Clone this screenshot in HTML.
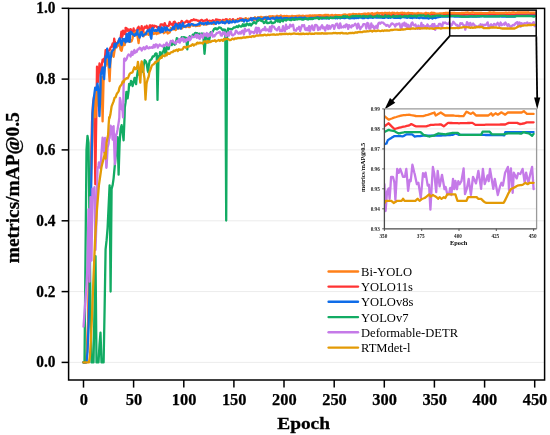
<!DOCTYPE html>
<html lang="en"><head><meta charset="utf-8"><title>metrics/mAP@0.5 vs Epoch</title>
<style>html,body{margin:0;padding:0;background:#fff}body{width:550px;height:435px;overflow:hidden}svg{display:block}text{font-family:"Liberation Serif","Times New Roman",serif;fill:#000}.tk{font-size:15px;font-weight:bold;stroke:#000;stroke-width:0.25px}.ti{font-size:17.6px;font-weight:bold}.lg{font-size:13.0px}.it{font-size:5.2px;font-weight:bold;fill:#222}.il{font-size:6.3px;font-weight:bold}</style></head><body>
<svg width="550" height="435" viewBox="0 0 550 435">
<rect width="550" height="435" fill="#fff"/>
<g stroke="#ececec" stroke-width="1">
<line x1="68.6" y1="362.4" x2="544.6" y2="362.4"/>
<line x1="68.6" y1="291.6" x2="544.6" y2="291.6"/>
<line x1="68.6" y1="220.8" x2="544.6" y2="220.8"/>
<line x1="68.6" y1="149.9" x2="544.6" y2="149.9"/>
<line x1="68.6" y1="79.1" x2="544.6" y2="79.1"/>
</g>
<defs><clipPath id="mc"><rect x="68.6" y="8.4" width="476.0" height="371.6"/></clipPath>
<clipPath id="ic"><rect x="384.4" y="108.9" width="152.2" height="119.9"/></clipPath></defs>
<g clip-path="url(#mc)">
<polyline points="83.5,362.4 84.5,362.4 85.5,362.4 86.0,362.4 86.5,357.1 87.0,351.8 87.5,339.4 88.0,327.0 88.5,305.7 89.0,284.5 89.5,252.6 90.0,220.8 90.5,192.4 91.0,164.1 91.5,142.9 92.0,121.6 92.5,112.8 93.0,103.9 93.5,100.4 94.0,96.8 94.5,125.6 94.8,142.9 95.3,184.3 95.5,170.6 96.0,134.4 96.5,104.7 97.0,66.7 97.5,77.1 98.0,82.0 98.5,76.5 99.5,63.5 100.5,71.4 100.7,72.5 101.5,67.0 102.6,59.7 103.6,60.5 104.1,58.6 104.6,62.0 105.6,50.2 106.6,50.1 107.6,54.5 108.6,50.7 109.6,50.1 110.6,47.4 111.6,46.7 112.6,43.5 113.6,46.9 114.2,38.7 114.6,40.8 115.6,43.4 116.6,43.4 117.6,46.1 118.6,40.7 119.6,39.0 120.6,37.8 121.4,31.7 121.6,37.4 122.6,35.6 123.1,30.7 123.6,31.1 124.6,33.8 125.5,34.4 125.6,27.8 126.6,28.2 127.6,30.7 128.6,29.4 129.6,31.7 130.6,29.1 131.6,31.3 132.6,34.4 133.6,28.4 134.6,34.5 135.6,30.7 136.3,32.5 136.6,32.7 137.6,28.2 138.6,26.8 139.7,30.4 140.7,30.4 141.7,26.1 142.7,32.1 143.7,29.1 144.7,26.7 145.7,27.7 146.7,25.8 147.7,29.0 148.7,29.6 149.7,25.4 150.7,25.4 151.7,29.3 152.7,25.4 153.7,27.7 154.7,25.8 155.7,26.2 156.7,26.5 157.7,28.0 158.7,26.9 159.7,28.1 160.7,24.3 161.7,24.4 162.7,24.7 163.7,26.1 164.7,23.2 165.7,25.5 166.7,26.5 167.7,26.1 168.7,26.0 169.7,21.9 170.7,24.4 171.7,24.0 172.7,25.7 173.7,22.0 174.7,21.7 175.7,24.3 176.8,23.6 177.8,25.2 178.8,23.0 179.8,23.9 180.8,22.7 181.8,20.9 182.8,22.6 183.8,22.9 184.8,22.5 185.8,21.8 186.8,20.7 187.8,22.3 188.8,21.4 189.8,22.2 190.8,20.6 191.8,20.1 192.8,20.3 193.8,19.3 194.8,20.2 195.8,20.0 196.8,20.2 197.8,20.8 198.8,20.7 199.8,21.3 200.8,20.4 201.8,19.9 202.8,20.8 203.8,21.0 204.8,20.5 205.8,20.6 206.8,19.4 207.8,21.6 208.8,21.0 209.8,20.6 210.8,21.3 211.8,21.0 212.8,20.1 213.9,21.7 214.9,21.9 215.9,19.4 216.9,19.8 217.9,19.6 218.9,21.4 219.9,19.9 220.9,21.2 221.9,20.8 222.9,19.8 223.9,21.0 224.9,19.9 225.9,19.2 226.9,19.3 227.9,20.6 228.9,21.1 229.9,19.2 230.9,20.9 231.9,21.0 232.9,19.1 233.9,20.6 234.9,21.0 235.9,20.4 236.9,20.5 237.9,18.9 238.9,19.5 239.9,18.3 240.9,18.7 241.9,18.7 242.9,20.1 243.9,20.2 244.9,19.6 245.9,19.3 246.9,20.2 247.9,19.9 248.9,19.3 249.9,19.8 251.0,17.9 252.0,19.5 253.0,19.8 254.0,18.2 255.0,19.5 256.0,18.2 257.0,19.5 258.0,19.2 259.0,18.5 260.0,18.9 261.0,17.8 262.0,18.1 263.0,18.9 264.0,18.2 265.0,19.1 266.0,17.0 267.0,18.9 268.0,18.5 269.0,18.0 270.0,16.7 271.0,17.4 272.0,17.1 273.0,18.4 274.0,17.4 275.0,16.6 276.0,17.9 277.0,17.3 278.0,17.1 279.0,16.4 280.0,17.8 281.0,15.8 282.0,17.0 283.0,16.5 284.0,17.0 285.0,16.7 286.0,16.4 287.0,16.8 288.1,16.9 289.1,16.8 290.1,17.1 291.1,17.2 292.1,16.5 293.1,16.4 294.1,16.6 295.1,16.6 296.1,16.1 297.1,17.1 298.1,17.1 299.1,16.3 300.1,16.1 301.1,16.1 302.1,16.6 303.1,16.8 304.1,16.6 305.1,16.8 306.1,16.1 307.1,16.0 308.1,16.1 309.1,16.4 310.1,16.6 311.1,16.6 312.1,16.0 313.1,16.6 314.1,15.7 315.1,16.1 316.1,16.5 317.1,16.7 318.1,16.4 319.1,16.0 320.1,16.2 321.1,16.0 322.1,16.0 323.1,16.3 324.1,16.1 325.2,16.3 326.2,15.8 327.2,16.2 328.2,16.1 329.2,16.2 330.2,16.0 331.2,15.5 332.2,15.7 333.2,15.8 334.2,15.8 335.2,16.4 336.2,16.4 337.2,15.7 338.2,15.5 339.2,15.6 340.2,16.1 341.2,16.0 342.2,15.8 343.2,15.8 344.2,16.2 345.2,15.3 346.2,16.0 347.2,16.0 348.2,15.5 349.2,15.4 350.2,15.5 351.2,15.2 352.2,16.1 353.2,15.5 354.2,15.8 355.2,16.1 356.2,15.1 357.2,16.0 358.2,15.4 359.2,15.2 360.2,15.3 361.2,15.6 362.3,15.8 363.3,15.0 364.3,15.5 365.3,15.0 366.3,15.6 367.3,15.3 368.3,15.1 369.3,15.6 370.3,15.2 371.3,15.5 372.3,15.0 373.3,15.0 374.3,15.1 375.3,15.4 376.3,15.3 377.3,15.3 378.3,15.4 379.3,15.3 380.3,15.6 381.3,15.6 382.3,14.8 383.3,15.7 384.3,15.5 385.3,14.8 386.3,14.9 387.3,15.4 388.3,15.2 389.3,15.0 390.3,15.4 391.3,15.3 392.3,14.9 393.3,14.7 394.3,15.3 395.3,15.5 396.3,15.7 397.3,15.5 398.3,15.0 399.4,15.2 400.4,15.5 401.4,15.1 402.4,14.9 403.4,14.8 404.4,14.9 405.4,15.1 406.4,14.6 407.4,15.6 408.4,15.5 409.4,14.8 410.4,15.2 411.4,14.8 412.4,15.5 413.4,14.9 414.4,14.9 415.4,14.9 416.4,14.9 417.4,15.3 418.4,15.1 419.4,15.2 420.4,15.2 421.4,15.5 422.4,15.2 423.4,15.1 424.4,15.1 425.4,14.5 426.4,15.1 427.4,15.0 428.4,14.8 429.4,14.5 430.4,14.9 431.4,14.4 432.4,14.8 433.4,15.2 434.4,15.3 435.4,14.7 436.5,14.5 437.3,14.4 437.5,14.4 438.5,14.7 439.5,15.0 440.5,15.2 441.2,15.4 441.5,15.4 442.5,15.3 443.5,15.2 444.5,15.2 445.5,15.1 446.0,15.1 446.5,15.0 447.5,15.0 448.5,14.9 449.5,14.9 450.5,14.8 450.9,14.8 451.5,14.7 452.5,14.5 453.5,14.7 454.5,14.8 455.5,14.9 456.5,14.9 457.5,14.9 458.5,14.9 459.5,14.9 460.5,14.9 461.5,14.9 462.5,14.9 463.5,14.8 464.5,14.8 465.5,14.7 466.5,14.7 467.5,14.7 468.5,14.6 469.5,14.6 470.5,14.6 471.5,14.6 472.5,14.6 473.6,14.8 474.4,14.9 474.6,14.9 475.6,14.7 476.6,14.5 477.3,14.3 477.6,14.3 478.6,14.3 479.6,14.3 480.6,14.4 481.6,14.4 482.6,14.4 483.6,14.4 484.6,14.4 485.6,14.4 486.6,14.4 487.6,14.4 488.6,14.4 489.6,14.4 490.6,14.3 491.6,14.3 492.6,14.3 493.6,14.3 494.6,14.5 495.6,14.7 496.6,14.7 497.6,14.7 498.6,14.7 499.6,14.7 500.6,14.7 501.6,14.7 502.6,14.6 503.6,14.6 504.6,14.6 505.6,14.6 506.6,14.6 507.6,14.6 508.6,14.6 509.6,14.6 510.7,14.6 511.7,14.6 512.7,14.6 513.7,14.6 514.7,14.6 515.7,14.6 516.7,14.5 517.7,14.4 518.0,14.3 518.7,14.3 519.7,14.3 520.7,14.3 521.7,14.3 522.7,14.3 523.7,14.3 524.7,14.5 525.3,14.5 525.7,14.5 526.7,14.5 527.7,14.4 528.7,14.4 529.7,14.3 530.2,14.2 530.7,14.2 531.7,14.2 532.7,14.2 533.7,14.2 534.7,14.2" fill="none" stroke="#FF3333" stroke-width="2.3" stroke-linejoin="round" stroke-linecap="round"/>
<polyline points="83.5,362.4 84.5,362.4 85.5,362.4 86.5,355.3 87.5,341.2 88.5,309.3 89.5,256.2 90.5,203.1 91.5,164.1 92.5,128.7 93.5,114.5 94.5,100.4 95.5,117.1 96.5,90.0 97.5,90.4 98.5,105.9 99.5,100.2 100.5,83.2 101.5,76.8 102.6,121.4 103.6,78.7 104.6,66.5 105.6,66.0 106.6,58.3 107.6,61.9 108.6,66.8 109.6,81.2 110.6,58.7 111.6,50.5 112.6,54.7 113.6,56.7 114.6,50.3 115.6,44.9 116.6,47.4 117.6,42.8 118.6,43.8 119.6,44.3 120.6,49.9 121.6,50.8 122.6,45.8 123.6,39.4 124.6,45.2 125.6,40.1 126.6,39.2 127.6,38.1 128.6,41.5 129.6,41.1 130.6,41.6 131.6,41.1 132.6,38.3 133.6,33.2 134.6,35.7 135.6,31.7 136.6,34.2 137.6,36.6 138.6,43.2 139.7,31.8 140.7,30.6 141.7,33.9 142.7,35.4 143.7,36.3 144.7,32.5 145.7,34.6 146.7,34.1 147.7,33.7 148.7,34.9 149.7,31.7 150.7,33.3 151.7,33.3 152.7,32.4 153.7,34.0 154.7,33.7 155.7,32.3 156.7,34.1 157.7,32.8 158.7,33.4 159.7,32.0 160.7,32.3 161.7,31.1 162.7,30.6 163.7,33.2 164.7,32.3 165.7,32.2 166.7,30.0 167.7,33.5 168.7,32.8 169.7,32.5 170.7,28.0 171.7,29.3 172.7,29.1 173.7,29.5 174.7,28.5 175.7,30.1 176.8,26.3 177.8,27.3 178.8,28.5 179.8,27.4 180.8,27.0 181.8,28.5 182.8,26.8 183.8,27.0 184.8,25.6 185.8,27.1 186.8,26.6 187.8,25.2 188.8,27.0 189.8,27.1 190.8,24.8 191.8,24.6 192.8,25.8 193.8,24.5 194.8,25.4 195.8,26.2 196.8,25.4 197.8,25.9 198.8,23.8 199.8,25.7 200.8,24.2 201.8,24.0 202.8,23.9 203.8,24.5 204.8,23.7 205.8,24.6 206.8,24.1 207.8,24.2 208.8,23.3 209.8,22.1 210.8,23.3 211.8,23.8 212.8,22.5 213.9,24.0 214.9,22.5 215.9,22.0 216.9,21.8 217.9,21.6 218.9,22.5 219.9,21.8 220.9,21.4 221.9,21.9 222.9,22.5 223.9,21.7 224.9,20.6 225.9,21.3 226.9,22.4 227.9,22.2 228.9,20.0 229.9,20.0 230.9,21.2 231.9,21.1 232.9,21.2 233.9,20.7 234.9,20.0 235.9,20.6 236.9,20.7 237.9,20.9 238.9,19.4 239.9,20.2 240.9,19.7 241.9,20.8 242.9,19.5 243.9,18.9 244.9,18.7 245.9,18.1 246.9,19.0 247.9,19.2 248.9,18.6 249.9,19.9 251.0,19.2 252.0,19.1 253.0,19.4 254.0,18.9 255.0,17.2 256.0,18.8 257.0,18.7 258.0,17.2 259.0,18.9 260.0,17.2 261.0,16.9 262.0,17.1 263.0,18.4 264.0,17.1 265.0,18.5 266.0,17.1 267.0,16.8 268.0,18.4 269.0,16.4 270.0,16.6 271.0,16.3 272.0,16.4 273.0,16.1 274.0,17.8 275.0,16.6 276.0,16.9 277.0,15.8 278.0,16.3 279.0,17.2 280.0,16.1 281.0,15.6 282.0,17.2 283.0,17.0 284.0,16.0 285.0,16.1 286.0,16.4 287.0,15.9 288.1,16.5 289.1,16.4 290.1,16.5 291.1,16.4 292.1,15.8 293.1,16.4 294.1,16.3 295.1,16.1 296.1,16.1 297.1,15.9 298.1,16.0 299.1,15.6 300.1,16.2 301.1,15.8 302.1,16.2 303.1,15.6 304.1,16.3 305.1,16.0 306.1,15.9 307.1,16.4 308.1,15.9 309.1,15.6 310.1,15.4 311.1,15.8 312.1,15.5 313.1,15.6 314.1,15.9 315.1,15.3 316.1,15.3 317.1,15.3 318.1,15.3 319.1,15.1 320.1,15.1 321.1,15.4 322.1,15.7 323.1,15.5 324.1,15.2 325.2,15.0 326.2,15.0 327.2,15.1 328.2,14.8 329.2,15.8 330.2,15.8 331.2,15.3 332.2,14.9 333.2,15.6 334.2,15.6 335.2,15.0 336.2,15.1 337.2,15.4 338.2,15.4 339.2,15.2 340.2,15.4 341.2,15.4 342.2,15.4 343.2,14.6 344.2,14.6 345.2,14.4 346.2,15.0 347.2,14.9 348.2,14.9 349.2,14.3 350.2,14.3 351.2,14.8 352.2,14.2 353.2,14.0 354.2,14.2 355.2,14.1 356.2,14.1 357.2,14.4 358.2,14.4 359.2,13.8 360.2,14.6 361.2,14.1 362.3,14.4 363.3,13.8 364.3,13.6 365.3,13.6 366.3,13.8 367.3,14.0 368.3,13.3 369.3,13.8 370.3,13.7 371.3,13.6 372.3,13.1 373.3,14.0 374.3,13.9 375.3,13.4 376.3,13.6 377.3,12.7 378.3,13.0 379.3,13.5 380.3,13.2 381.3,13.2 382.3,13.0 383.3,13.5 384.3,13.0 385.3,12.8 386.3,13.3 387.3,12.9 388.3,13.6 389.3,12.7 390.3,13.3 391.3,13.6 392.3,12.7 393.3,12.8 394.3,12.8 395.3,13.4 396.3,13.3 397.3,12.7 398.3,13.2 399.4,13.5 400.4,12.9 401.4,12.9 402.4,12.7 403.4,13.3 404.4,12.8 405.4,13.4 406.4,13.5 407.4,13.1 408.4,12.7 409.4,13.1 410.4,13.2 411.4,13.1 412.4,13.1 413.4,13.5 414.4,13.3 415.4,13.6 416.4,13.4 417.4,13.4 418.4,12.9 419.4,13.5 420.4,13.5 421.4,13.3 422.4,13.6 423.4,13.7 424.4,13.7 425.4,13.0 426.4,13.0 427.4,13.6 428.4,13.2 429.4,13.6 430.4,13.3 431.4,12.7 432.4,12.9 433.4,13.0 434.4,13.0 435.4,13.3 436.5,13.6 437.3,13.8 437.5,13.7 438.5,13.6 439.5,13.5 440.5,13.4 441.2,13.4 441.5,13.3 442.5,13.3 443.5,13.2 444.5,13.1 445.5,13.0 446.0,13.0 446.5,13.0 447.5,13.0 448.5,12.9 449.5,12.9 450.5,12.9 450.9,12.9 451.5,12.9 452.5,12.9 453.5,13.0 454.5,13.0 455.5,13.1 455.8,13.1 456.5,13.1 457.5,13.1 458.5,13.1 459.5,13.1 460.5,13.1 461.5,13.0 462.5,13.0 463.5,12.9 464.5,12.8 465.5,12.7 466.5,12.6 467.5,12.5 468.0,12.5 468.5,12.8 468.9,13.0 469.5,12.9 470.5,12.8 471.5,12.6 472.3,12.5 472.5,12.5 473.6,12.7 474.6,12.9 475.4,13.0 475.6,13.0 476.6,13.0 477.6,13.0 478.6,13.0 479.6,13.0 480.2,13.0 480.6,13.0 481.6,13.0 482.6,13.1 483.6,13.1 484.6,13.1 485.1,13.1 485.6,13.1 486.6,13.1 487.6,13.1 488.6,12.7 489.6,12.3 490.6,12.5 491.6,12.6 492.6,12.7 493.6,12.5 494.0,12.5 494.6,12.6 495.6,12.9 496.0,13.0 496.6,13.0 497.6,13.0 498.6,13.0 499.6,13.0 500.6,13.0 501.6,13.0 502.6,13.0 503.6,13.0 504.3,13.0 504.6,12.9 505.6,12.7 506.2,12.6 506.6,12.8 507.2,13.0 507.6,12.9 508.6,12.7 509.1,12.6 509.6,12.7 510.7,12.9 511.7,12.7 512.7,12.5 513.1,12.4 513.7,12.5 514.7,12.7 515.6,12.9 515.7,12.8 516.7,12.6 517.5,12.5 517.7,12.5 518.7,12.5 519.7,12.5 520.7,12.5 521.7,12.5 522.7,12.5 523.7,12.5 524.7,12.5 525.7,12.5 526.7,12.5 527.7,12.3 528.2,12.2 528.7,12.4 529.7,12.6 530.2,12.7 530.7,12.7 531.7,12.7 532.7,12.7 533.7,12.7 534.7,12.7" fill="none" stroke="#FF8019" stroke-width="2.3" stroke-linejoin="round" stroke-linecap="round"/>
<polyline points="83.5,362.4 84.5,362.4 85.5,362.4 86.5,362.4 87.5,351.8 88.5,327.0 89.5,291.6 90.5,220.8 91.5,167.6 92.5,113.5 93.5,100.4 94.5,92.9 95.2,87.6 95.5,88.2 96.5,89.8 97.5,83.7 98.0,87.7 98.5,92.1 99.4,116.2 99.5,115.6 100.5,88.6 100.7,75.1 101.5,71.9 102.6,67.4 103.6,76.9 104.1,79.1 104.6,70.8 105.6,56.4 106.6,57.6 107.2,48.7 107.6,55.2 108.6,52.6 109.6,67.4 109.9,64.6 110.6,57.6 111.1,57.0 111.6,52.2 112.6,50.7 113.6,49.6 114.6,43.6 115.6,47.4 116.6,43.6 117.6,43.1 118.6,41.2 119.6,38.4 120.6,42.4 121.6,45.1 122.6,38.6 123.6,40.6 124.6,38.9 125.6,42.4 126.6,34.2 127.6,41.3 128.6,33.1 129.6,41.8 130.6,31.6 131.6,32.5 132.6,34.0 133.6,34.7 134.6,35.8 135.6,33.8 136.6,34.5 137.5,30.2 137.6,33.8 138.6,34.9 139.7,37.6 140.7,32.5 141.7,31.9 142.7,36.0 143.7,34.8 144.7,34.4 145.7,34.0 146.7,31.9 147.7,30.4 148.7,31.3 149.7,29.4 150.2,33.1 150.7,36.8 151.3,38.7 151.7,34.7 152.2,28.5 152.7,27.9 153.7,30.7 154.7,30.8 155.7,29.9 156.7,30.9 157.7,30.5 158.7,27.4 159.7,31.4 160.7,32.4 161.7,27.3 162.7,31.8 163.7,28.6 164.7,27.3 165.7,30.6 166.7,27.5 167.7,29.6 168.7,30.2 169.7,30.3 170.7,30.3 171.7,29.5 172.7,27.4 173.7,27.2 174.2,28.9 174.7,26.7 175.7,24.1 176.8,24.5 177.8,28.6 178.8,26.8 179.8,24.1 180.8,28.7 181.8,25.9 182.8,23.1 183.8,26.5 184.8,26.7 185.8,26.2 186.8,25.3 187.8,25.6 188.8,24.0 189.8,25.6 190.8,24.3 191.8,24.0 192.8,24.4 193.8,25.3 194.8,25.1 195.8,25.0 196.8,25.0 197.8,24.3 198.8,24.4 199.8,22.5 200.8,22.8 201.8,23.8 202.8,23.1 203.8,24.3 204.8,23.2 205.8,22.8 206.8,24.1 207.8,22.3 208.8,23.4 209.8,23.5 210.8,22.9 211.8,23.5 212.8,22.7 213.9,22.0 214.9,22.9 215.9,23.9 216.9,21.8 217.9,21.8 218.9,23.3 219.9,22.7 220.9,22.6 221.9,21.5 222.9,22.8 223.9,22.1 224.9,23.4 225.9,22.3 226.9,21.1 227.9,21.4 228.9,23.1 229.9,21.2 230.9,22.4 231.9,22.4 232.9,20.8 233.9,21.6 234.9,22.4 235.9,20.7 236.9,21.6 237.9,21.5 238.9,21.1 239.9,20.3 240.9,20.2 241.9,20.3 242.9,19.4 243.9,21.6 244.9,20.0 245.9,19.7 246.9,21.1 247.9,20.7 248.9,20.6 249.9,19.3 251.0,18.4 252.0,20.4 253.0,18.2 254.0,18.3 255.0,18.5 256.0,18.6 257.0,19.9 258.0,17.8 259.0,18.0 260.0,18.5 261.0,19.2 262.0,19.2 263.0,18.9 264.0,17.6 265.0,17.7 266.0,17.6 267.0,19.2 268.0,17.4 269.0,18.8 270.0,19.2 271.0,18.2 272.0,18.5 273.0,17.6 274.0,18.6 275.0,19.4 276.0,17.7 277.0,17.4 278.0,19.2 279.0,18.0 280.0,17.8 281.0,17.4 282.0,19.0 283.0,19.3 284.0,18.1 285.0,18.2 286.0,18.2 287.0,18.2 288.1,18.3 289.1,18.7 290.1,18.5 291.1,17.9 292.1,17.9 293.1,18.4 294.1,18.3 295.1,17.9 296.1,17.6 297.1,18.7 298.1,18.5 299.1,17.7 300.1,18.0 301.1,17.7 302.1,17.9 303.1,18.5 304.1,17.6 305.1,17.7 306.1,18.5 307.1,18.3 308.1,18.6 309.1,18.4 310.1,18.1 311.1,18.0 312.1,18.0 313.1,18.5 314.1,17.8 315.1,18.1 316.1,17.9 317.1,17.5 318.1,17.5 319.1,18.3 320.1,17.6 321.1,17.8 322.1,18.5 323.1,18.3 324.1,18.4 325.2,18.2 326.2,17.5 327.2,18.4 328.2,18.1 329.2,18.3 330.2,17.8 331.2,17.9 332.2,17.7 333.2,17.9 334.2,17.9 335.2,18.3 336.2,17.6 337.2,18.3 338.2,18.0 339.2,17.6 340.2,18.3 341.2,17.7 342.2,17.9 343.2,17.7 344.2,18.1 345.2,18.0 346.2,17.6 347.2,17.4 348.2,17.5 349.2,18.3 350.2,18.3 351.2,18.0 352.2,18.2 353.2,18.0 354.2,18.3 355.2,17.6 356.2,18.2 357.2,17.4 358.2,18.1 359.2,17.5 360.2,17.6 361.2,17.3 362.3,18.1 363.3,18.2 364.3,18.0 365.3,17.3 366.3,17.5 367.3,17.8 368.3,18.0 369.3,17.5 370.3,17.5 371.3,17.4 372.3,17.8 373.3,17.8 374.3,17.3 375.3,17.1 376.3,17.7 377.3,17.6 378.3,17.5 379.3,17.7 380.3,17.7 381.3,17.2 382.3,17.8 383.3,17.6 384.3,17.9 385.3,17.5 386.3,17.0 387.3,17.5 388.3,17.9 389.3,17.3 390.3,17.8 391.3,17.5 392.3,17.1 393.3,17.4 394.3,17.9 395.3,17.6 396.3,17.9 397.3,17.9 398.3,17.9 399.4,17.7 400.4,18.1 401.4,17.5 402.4,17.2 403.4,17.2 404.4,17.4 405.4,17.4 406.4,17.6 407.4,17.8 408.4,17.4 409.4,17.4 410.4,17.9 411.4,17.5 412.4,18.1 413.4,17.4 414.4,17.5 415.4,17.4 416.4,17.8 417.4,17.5 418.4,17.8 419.4,18.2 420.4,17.5 421.4,17.7 422.4,18.0 423.4,18.2 424.4,17.9 425.4,18.2 426.4,18.0 427.4,17.9 428.4,18.6 429.4,18.1 430.4,17.9 431.4,17.8 432.4,18.5 433.4,17.8 434.4,17.7 435.4,18.0 435.8,18.0 436.5,17.6 436.8,17.4 437.5,17.3 438.5,17.1 439.2,17.0 439.5,16.9 440.5,16.8 441.2,16.7 441.5,16.7 442.5,16.7 443.5,16.7 444.5,16.7 445.5,16.7 446.5,16.7 447.0,16.7 447.5,16.6 448.5,16.5 449.5,16.3 450.5,16.3 451.5,16.3 452.5,16.3 453.0,16.3 453.5,16.4 454.5,16.7 454.8,16.7 455.5,16.7 456.5,16.7 457.5,16.7 458.5,16.6 459.5,16.6 460.5,16.6 461.5,16.6 462.5,16.6 463.5,16.6 464.5,16.6 465.5,16.6 466.5,16.6 467.5,16.6 468.5,16.6 469.5,16.6 470.5,16.6 471.5,16.6 472.5,16.6 473.6,16.5 474.6,16.5 475.6,16.5 476.6,16.5 477.6,16.5 478.6,16.5 479.6,16.5 480.2,16.4 480.6,16.4 481.6,16.3 482.2,16.2 482.6,16.2 483.6,16.3 484.6,16.4 485.6,16.4 486.6,16.4 487.6,16.4 488.6,16.4 489.6,16.4 490.6,16.4 491.6,16.4 492.6,16.4 493.6,16.4 494.6,16.4 495.6,16.4 496.6,16.4 497.6,16.4 498.6,16.4 499.6,16.4 500.6,16.4 501.6,16.5 502.6,16.5 503.6,16.5 504.6,16.5 505.6,16.5 506.6,16.5 507.6,16.5 508.6,16.5 509.6,16.5 510.7,16.5 511.7,16.5 512.7,16.5 513.7,16.5 514.7,16.5 515.1,16.5 515.7,15.9 516.7,15.9 517.7,15.9 518.7,15.9 519.7,15.9 520.7,15.9 521.7,15.9 522.7,15.9 523.7,15.9 524.7,15.9 525.7,15.9 526.7,15.9 527.7,15.9 528.7,15.9 529.7,15.9 530.7,15.9 531.7,15.9 532.7,15.9 533.7,15.9 534.7,15.9" fill="none" stroke="#0F6CE8" stroke-width="2.3" stroke-linejoin="round" stroke-linecap="round"/>
<polyline points="83.5,362.4 84.5,362.4 85.5,256.2 86.5,149.9 87.5,135.8 88.5,142.9 89.5,220.8 90.5,309.3 91.5,362.4 92.5,362.4 93.5,362.4 94.5,309.3 95.5,256.2 96.5,362.4 97.5,362.4 98.5,362.4 99.5,344.7 100.5,332.7 101.5,362.4 102.6,362.4 103.6,362.4 104.6,309.3 105.6,249.1 106.6,240.2 107.6,227.8 108.6,206.6 109.6,185.3 110.6,291.6 111.6,188.9 112.6,185.3 113.6,178.3 114.6,167.6 115.6,157.0 116.6,149.9 117.6,137.2 118.6,174.7 119.6,142.9 120.6,128.7 121.6,125.2 122.6,132.2 123.6,140.3 124.6,116.0 124.8,107.5 125.6,102.2 126.4,91.8 126.6,93.8 127.6,98.3 128.6,91.1 129.1,83.9 129.6,85.5 130.6,84.2 131.0,80.8 131.6,81.8 132.6,86.1 133.6,81.9 134.4,78.9 134.6,77.8 135.6,82.5 136.1,84.1 136.6,78.6 137.6,72.1 137.9,70.5 138.6,74.6 139.7,72.2 140.7,68.9 141.7,69.0 142.7,71.7 143.2,71.0 143.7,65.4 144.7,60.2 145.7,61.2 146.7,63.9 147.7,70.7 148.3,72.4 148.7,66.0 149.7,60.7 150.7,59.8 151.7,58.9 152.7,56.3 153.7,56.5 154.7,55.3 155.2,54.0 155.7,53.3 156.7,53.6 157.5,99.9 157.7,90.3 158.5,58.0 158.7,56.1 159.7,56.2 160.0,52.1 160.7,53.9 161.7,57.3 162.7,51.7 163.7,50.9 164.3,46.9 164.7,51.1 165.7,54.5 166.7,48.0 167.7,45.8 168.7,49.1 169.7,43.9 170.7,42.9 171.7,45.1 172.7,42.3 173.7,43.6 174.7,44.7 175.7,43.8 176.8,38.2 177.8,39.0 178.2,38.9 178.8,39.8 179.8,39.8 180.8,40.2 181.8,37.2 182.8,38.3 183.8,37.1 184.8,37.7 185.8,37.7 186.3,38.9 186.8,44.1 187.3,49.4 187.8,43.5 188.3,38.2 188.8,38.9 189.8,36.3 190.8,37.8 191.8,37.3 192.8,34.6 193.8,35.5 194.8,33.4 195.8,32.9 196.4,33.9 196.8,33.1 197.8,33.7 198.8,33.8 199.8,33.7 200.8,34.5 201.8,33.4 202.8,34.2 203.3,34.0 203.8,42.5 204.5,53.8 204.8,51.0 205.8,37.1 206.8,35.7 207.3,34.4 207.8,38.4 208.8,42.4 209.8,37.1 210.3,33.5 210.8,32.1 211.8,31.9 212.8,31.6 213.9,29.1 214.6,28.5 214.9,29.0 215.9,28.3 216.9,29.4 217.9,28.8 218.9,27.5 219.9,27.7 220.9,27.9 221.9,29.3 222.9,30.4 223.9,29.4 224.9,31.0 225.3,29.8 225.9,156.7 226.2,220.5 226.9,73.1 227.1,32.3 227.9,30.7 228.1,28.5 228.9,29.2 229.9,29.0 230.9,29.2 231.9,29.4 232.7,28.7 232.9,28.3 233.9,27.5 234.9,27.6 235.9,27.0 236.9,26.3 237.9,27.2 238.9,25.5 239.9,26.2 240.9,26.6 241.9,26.1 242.9,24.2 243.9,26.1 244.9,24.5 245.9,25.7 246.9,23.5 247.9,24.2 248.9,25.2 249.9,23.8 251.0,25.5 252.0,24.1 253.0,23.2 254.0,22.0 255.0,23.0 256.0,23.5 257.0,20.8 258.0,20.8 259.0,20.0 260.0,19.8 261.0,20.8 262.0,21.0 263.0,21.4 264.0,23.1 265.0,22.5 266.0,20.7 267.0,23.0 268.0,23.0 269.0,22.9 270.0,22.6 271.0,21.4 272.0,23.3 273.0,23.2 274.0,22.6 275.0,22.3 276.0,20.4 277.0,20.1 278.0,21.6 279.0,20.0 280.0,22.1 281.0,19.9 282.0,20.6 283.0,21.3 284.0,19.7 285.0,19.5 286.0,20.6 287.0,19.9 288.1,19.1 289.1,19.6 290.1,20.0 291.1,20.2 292.1,19.5 293.1,18.8 294.1,19.9 295.1,19.6 296.1,19.2 297.1,19.5 298.1,19.1 299.1,19.2 300.1,19.0 301.1,18.8 302.1,19.7 303.1,19.6 304.1,19.2 305.1,18.6 306.1,19.0 307.1,18.9 308.1,19.5 309.1,18.2 310.1,19.1 311.1,18.7 312.1,19.2 313.1,18.8 314.1,18.1 315.1,17.9 316.1,18.0 317.1,17.8 318.1,18.3 319.1,19.0 320.1,18.1 321.1,18.3 322.1,17.6 323.1,17.7 324.1,17.9 325.2,18.0 326.2,18.3 327.2,17.4 328.2,17.7 329.2,18.5 330.2,17.4 331.2,17.9 332.2,18.2 333.2,18.0 334.2,17.8 335.2,17.0 336.2,16.8 337.2,17.0 338.2,17.7 339.2,17.1 340.2,17.4 341.2,17.4 342.2,17.4 343.2,16.1 344.2,16.7 345.2,16.2 346.2,17.1 347.2,16.3 348.2,17.3 349.2,17.3 350.2,17.2 351.2,16.4 352.2,16.4 353.2,15.9 354.2,16.3 355.2,16.0 356.2,16.0 357.2,16.0 358.2,16.4 359.2,15.8 360.2,15.9 361.2,16.8 362.3,16.3 363.3,15.8 364.3,16.1 365.3,16.9 366.3,16.1 367.3,16.7 368.3,16.5 369.3,16.2 370.3,15.6 371.3,16.3 372.3,16.8 373.3,16.8 374.3,16.6 375.3,16.3 376.3,16.1 377.3,15.5 378.3,16.7 379.3,15.6 380.3,16.7 381.3,16.4 382.3,16.6 383.3,16.8 384.3,16.8 385.3,15.5 386.3,16.3 387.3,16.7 388.3,15.7 389.3,16.1 390.3,16.6 391.3,16.8 392.3,16.9 393.3,15.7 394.3,16.3 395.3,16.8 396.3,16.0 397.3,16.6 398.3,16.3 399.4,16.0 400.4,16.0 401.4,16.8 402.4,16.6 403.4,16.7 404.4,15.8 405.4,16.1 406.4,16.0 407.4,16.5 408.4,16.6 409.4,15.6 410.4,15.8 411.4,15.7 412.4,16.2 413.4,16.1 414.4,15.6 415.4,15.6 416.4,16.6 417.4,15.6 418.4,15.7 419.4,15.5 420.4,15.5 421.4,15.5 422.4,15.6 423.4,15.4 424.4,15.8 425.4,16.3 426.4,16.4 427.4,15.7 428.4,15.4 429.4,16.6 430.4,16.4 431.4,16.6 432.4,16.2 433.4,16.4 434.4,16.0 435.4,15.8 436.5,15.7 437.3,15.6 437.5,15.6 438.5,15.6 439.5,15.7 440.5,15.7 441.2,15.8 441.5,15.8 442.5,16.0 443.5,16.1 444.1,16.2 444.5,16.2 445.5,16.1 446.5,16.0 447.5,16.0 448.0,15.9 448.5,15.9 449.5,15.9 450.5,15.9 451.5,15.9 452.5,15.9 453.5,15.9 454.5,15.9 455.5,15.9 456.5,15.9 457.5,15.9 458.5,15.9 458.7,15.9 459.5,16.1 460.5,16.4 460.7,16.4 461.5,16.5 462.5,16.6 463.5,16.7 464.5,16.7 465.5,16.7 466.5,16.6 467.5,16.6 468.5,16.5 469.5,16.3 470.5,16.2 471.5,16.2 472.5,16.3 473.6,16.3 474.6,16.3 475.6,16.3 476.6,16.3 477.6,16.2 478.6,16.2 479.6,16.1 480.2,16.1 480.6,16.1 481.6,16.1 482.6,16.1 483.6,16.1 483.8,16.1 484.6,16.3 485.3,16.4 485.6,16.4 486.6,16.4 487.6,16.4 488.6,16.4 489.6,16.4 490.6,16.4 491.6,16.4 492.6,16.4 493.6,16.4 494.6,16.4 495.6,16.4 496.6,16.4 497.6,16.4 498.6,16.4 499.4,16.4 499.6,16.3 500.4,15.9 500.6,15.9 501.6,15.9 502.6,15.9 503.6,15.9 504.6,15.9 505.2,15.9 505.6,16.0 506.6,16.3 507.6,16.3 508.6,16.3 509.6,16.3 510.7,16.3 511.7,16.3 512.7,16.3 513.7,16.3 514.7,16.3 515.7,16.3 516.7,16.2 517.7,16.2 518.7,16.2 519.7,16.2 520.7,16.2 521.7,16.2 522.7,16.2 523.7,16.2 524.7,16.2 525.7,16.2 526.7,16.2 527.7,15.9 528.7,16.0 529.7,16.1 530.7,16.1 531.7,16.2 532.7,16.4 533.7,16.6 534.7,16.3" fill="none" stroke="#12AB63" stroke-width="2.3" stroke-linejoin="round" stroke-linecap="round"/>
<polyline points="83.5,326.7 84.5,312.9 85.5,298.5 86.5,284.8 87.5,265.7 88.5,209.5 89.5,281.7 90.5,197.1 91.5,260.5 92.5,188.7 93.5,197.0 94.5,187.1 95.5,249.9 96.5,219.2 97.5,169.1 98.5,165.7 98.9,162.5 99.5,166.4 100.5,168.4 101.5,153.0 102.6,137.6 103.6,143.1 104.1,152.3 104.6,147.2 105.1,137.8 105.6,152.0 106.3,167.8 106.6,166.8 107.6,147.4 108.6,143.6 109.1,136.9 109.6,138.2 110.6,125.6 111.1,126.9 111.6,127.0 112.6,139.6 113.6,126.1 114.6,158.7 114.9,164.3 115.6,149.4 116.1,134.3 116.6,134.2 117.6,129.2 118.6,122.9 119.3,118.0 119.6,105.3 119.9,97.9 120.6,100.7 121.1,108.8 121.6,108.2 122.6,111.2 123.0,117.3 123.6,86.3 124.1,58.9 124.6,58.5 125.6,60.5 126.6,58.9 127.6,56.0 128.6,54.4 129.6,55.1 129.9,55.2 130.6,56.5 131.6,51.6 132.6,54.8 133.6,51.5 134.4,50.0 134.6,53.1 135.6,51.2 136.6,52.1 137.6,49.3 138.6,49.3 139.7,47.6 140.7,48.3 141.7,50.6 142.7,48.5 143.7,47.2 144.7,49.3 145.7,48.5 146.0,47.2 146.7,46.1 147.7,48.0 148.7,48.4 149.7,47.3 150.7,47.8 151.7,47.1 152.7,47.9 153.7,45.0 154.7,47.3 155.7,44.4 156.7,44.6 157.5,46.3 157.7,47.7 158.7,45.8 159.7,44.4 160.0,45.6 160.7,45.5 161.7,45.9 162.7,46.6 163.7,44.8 164.7,45.7 165.7,44.8 166.7,42.6 167.7,45.3 168.7,45.6 169.7,45.0 170.7,41.0 171.7,41.4 172.7,40.5 173.7,42.4 174.7,42.6 175.7,43.6 176.8,41.1 177.8,41.0 178.2,42.0 178.8,39.2 179.8,42.6 180.8,38.7 181.8,40.3 182.8,38.3 183.8,41.7 184.8,39.4 185.8,41.5 186.8,39.3 187.8,40.1 188.8,37.0 189.8,40.4 190.8,39.1 191.8,36.3 192.8,36.8 193.8,37.2 194.8,36.5 195.8,34.8 196.4,36.8 196.8,37.8 197.8,34.8 198.8,38.0 199.8,38.8 200.8,34.4 201.8,35.8 202.8,38.0 203.8,33.5 204.8,34.2 205.8,35.6 206.8,33.0 207.8,36.7 208.8,33.9 209.8,35.8 210.8,35.1 211.8,32.2 212.8,36.7 213.9,35.7 214.6,36.3 214.9,35.2 215.9,34.3 216.9,33.0 217.9,32.9 218.9,32.2 219.9,32.0 220.9,35.3 221.9,35.6 222.9,32.3 223.9,33.9 224.9,32.4 225.9,36.3 226.9,35.6 227.9,32.5 228.9,35.7 229.9,32.1 230.9,31.3 231.9,35.0 232.7,35.3 232.9,35.4 233.9,34.6 234.9,34.0 235.9,30.6 236.9,31.6 237.9,33.2 238.9,33.7 239.9,32.2 240.9,33.6 241.9,31.0 242.9,30.6 243.9,34.5 244.9,28.7 245.9,31.3 246.9,30.8 247.9,29.8 248.9,29.5 249.9,34.0 251.0,31.5 252.0,32.3 253.0,31.9 254.0,33.4 255.0,31.0 256.0,27.7 257.0,33.2 258.0,27.8 259.0,28.3 260.0,33.2 261.0,31.1 262.0,30.1 263.0,29.2 264.0,30.0 265.0,27.0 266.0,30.5 267.0,29.4 268.0,29.9 269.0,31.3 270.0,26.8 271.0,31.5 272.0,25.8 273.0,26.6 274.0,26.7 275.0,28.8 276.0,29.5 277.0,30.4 278.0,28.2 279.0,27.0 280.0,31.1 281.0,30.3 282.0,31.2 283.0,26.1 284.0,30.6 285.0,31.2 286.0,24.7 287.0,28.8 288.1,27.0 289.1,28.0 290.1,24.7 291.1,26.4 292.1,25.5 293.1,24.7 294.1,30.4 295.1,30.1 296.1,30.7 297.1,28.3 298.1,28.9 299.1,26.7 300.1,31.1 301.1,28.1 302.1,25.1 303.1,26.0 304.1,25.0 305.1,29.4 306.1,30.0 307.1,28.0 308.1,30.4 309.1,26.1 310.1,30.9 311.1,26.8 312.1,25.4 313.1,29.7 314.1,30.1 315.1,25.1 316.1,24.8 317.1,25.6 318.1,30.0 319.1,27.5 320.1,29.4 321.1,26.8 322.1,25.2 323.1,28.4 324.1,27.3 325.2,30.6 326.2,27.0 327.2,25.2 328.2,29.1 329.2,25.8 330.2,28.7 331.2,26.6 332.2,25.1 333.2,25.4 334.2,28.9 335.2,25.7 336.2,23.8 337.2,23.6 338.2,27.8 339.2,28.1 340.2,23.3 341.2,27.6 342.2,26.8 343.2,27.3 344.2,25.6 345.2,27.2 346.2,24.4 347.2,24.8 348.2,28.9 349.2,25.2 350.2,26.6 351.2,27.5 352.2,25.3 353.2,26.0 354.2,24.9 355.2,23.6 356.2,24.9 357.2,28.5 358.2,23.6 359.2,26.2 360.2,29.2 361.2,27.2 362.3,26.6 363.3,24.2 364.3,24.2 365.3,24.3 366.3,28.6 367.3,22.9 368.3,23.5 369.3,28.7 370.3,28.7 371.3,23.5 372.3,27.0 373.3,25.8 374.3,28.8 375.3,27.4 376.3,25.8 377.3,28.4 378.3,23.6 379.3,22.6 380.3,23.7 381.3,22.3 382.3,22.6 383.3,22.6 384.3,24.2 385.3,24.5 386.3,25.8 387.3,25.0 388.3,25.6 389.3,26.9 390.3,25.6 391.3,23.9 392.3,23.4 393.3,24.2 394.3,24.8 395.3,26.6 396.3,23.9 397.3,24.5 398.3,23.8 399.4,23.4 400.4,26.9 401.4,28.9 402.4,23.7 403.4,25.3 404.4,22.6 405.4,26.2 406.4,23.8 407.4,27.8 408.4,24.9 409.4,28.1 410.4,28.6 411.4,23.3 412.4,22.5 413.4,25.1 414.4,25.5 415.4,24.4 416.4,26.9 417.4,28.8 418.4,25.5 419.4,28.7 420.4,28.2 421.4,23.0 422.4,28.0 423.4,25.1 424.4,27.8 425.4,26.3 426.4,27.6 427.4,24.4 428.4,25.9 429.4,27.0 430.4,26.0 431.4,26.5 432.4,24.1 433.4,27.9 434.4,24.0 435.2,29.9 435.4,29.2 436.2,26.5 436.5,26.4 437.3,25.9 437.5,26.5 438.0,27.8 438.5,25.8 439.0,23.9 439.5,23.9 440.2,23.9 440.5,24.2 441.2,24.9 441.5,26.2 441.9,28.0 442.5,25.2 443.1,22.5 443.5,22.7 444.1,23.2 444.5,22.9 445.1,22.5 445.5,22.8 446.5,23.5 447.0,23.9 447.5,23.9 448.2,23.9 448.5,23.5 449.2,22.5 449.5,23.4 450.4,26.4 450.5,26.2 451.4,24.4 451.5,24.4 452.1,24.7 452.5,23.7 453.3,21.7 453.5,21.9 454.5,23.1 454.8,23.4 455.5,24.2 456.3,25.2 456.5,25.1 457.3,24.9 457.5,25.3 458.5,26.9 458.9,27.6 459.5,25.9 460.4,23.2 460.5,23.3 461.5,23.9 462.1,23.1 462.5,23.8 463.5,25.4 464.4,25.3 464.5,25.8 465.3,29.7 465.5,28.8 466.5,24.3 467.0,22.1 467.5,22.7 468.0,23.4 468.5,24.7 469.2,26.6 469.5,25.5 470.2,22.8 470.5,23.5 471.5,25.6 472.5,24.3 473.1,23.5 473.6,24.1 474.6,25.6 474.9,26.1 475.6,25.7 476.6,26.8 476.8,27.1 477.6,26.8 478.1,26.7 478.6,26.1 478.8,25.8 479.5,27.1 479.6,26.8 480.6,24.2 481.4,26.1 481.6,25.7 482.2,24.6 482.6,25.2 483.2,26.1 483.6,25.4 484.1,24.7 484.6,25.0 485.0,25.2 485.6,24.9 486.2,24.7 486.6,24.0 487.6,22.5 487.7,22.4 488.6,27.0 489.6,26.2 489.8,26.0 490.6,24.9 491.1,24.3 491.6,25.2 492.6,27.1 493.6,24.8 494.0,23.9 494.6,24.2 495.6,24.8 496.0,25.0 496.6,24.2 497.6,22.8 498.6,24.6 499.4,26.0 499.6,25.4 500.6,22.5 501.6,24.7 501.8,25.2 502.6,24.6 503.6,23.8 503.8,23.6 504.5,24.7 504.6,24.4 505.4,22.5 505.6,22.8 506.6,24.4 507.6,26.0 508.6,24.3 509.6,25.7 510.7,27.1 511.7,26.1 512.2,25.6 512.7,25.2 513.1,24.9 513.7,25.2 514.1,25.4 514.7,24.5 515.6,23.2 515.7,23.1 516.7,22.6 517.5,22.1 517.7,23.3 518.2,26.2 518.7,23.9 518.8,23.4 519.5,22.4 519.7,23.1 520.7,26.7 521.4,23.1 521.7,23.3 522.7,23.8 523.4,24.2 523.7,23.9 524.3,23.2 524.7,23.3 525.7,23.4 525.8,23.4 526.7,22.8 527.3,22.5 527.7,23.1 528.7,24.8 529.7,23.1 530.7,24.3 531.2,24.9 531.7,24.3 532.7,23.1 533.7,22.1 534.7,26.1" fill="none" stroke="#C57AE8" stroke-width="2.3" stroke-linejoin="round" stroke-linecap="round"/>
<polyline points="83.5,362.4 84.5,362.4 85.5,362.4 86.5,362.4 87.5,362.4 88.5,362.4 89.0,362.4 89.5,358.9 90.0,355.3 90.5,346.5 91.0,337.6 91.5,327.0 92.0,316.4 92.5,303.3 93.4,279.9 93.5,277.5 94.5,253.5 95.2,236.7 95.5,232.1 96.5,216.7 97.0,209.1 97.5,202.8 98.5,190.3 98.9,185.3 99.5,181.1 100.5,174.0 101.5,166.9 102.6,162.4 103.6,158.2 104.5,155.2 104.6,152.9 105.6,158.5 106.6,142.5 107.6,137.3 108.1,135.0 108.6,125.4 109.2,117.2 109.6,117.9 110.4,114.6 110.6,113.1 111.6,106.4 112.6,103.9 113.6,101.4 114.6,97.7 115.6,97.3 116.6,94.4 117.2,93.3 117.6,92.7 118.6,91.4 119.6,87.4 120.6,85.7 121.6,84.5 122.6,81.5 123.0,81.9 123.6,82.3 124.6,79.5 125.6,79.1 126.6,78.1 127.6,78.4 128.6,76.4 129.6,74.0 130.6,72.9 131.6,72.8 132.6,72.2 133.6,69.3 134.4,67.3 134.6,67.7 135.6,69.2 136.1,69.1 136.6,68.7 137.6,64.9 137.9,61.8 138.6,65.8 139.1,69.7 139.7,76.1 140.3,82.6 140.7,75.3 141.2,64.3 141.7,61.4 142.1,62.2 142.7,65.5 143.2,69.4 143.7,73.3 144.5,78.4 144.7,83.2 145.5,99.7 145.7,96.1 146.5,84.2 146.7,82.8 147.7,79.2 148.7,76.5 149.4,72.0 149.7,71.6 150.7,68.9 151.7,65.8 152.7,64.7 153.7,64.2 154.7,63.1 155.2,62.1 155.7,62.7 156.7,61.3 157.7,61.2 158.7,60.1 159.7,58.8 160.7,57.1 161.7,57.7 162.0,56.2 162.7,55.5 163.7,55.8 164.7,56.2 165.7,54.5 166.7,55.3 167.7,52.8 168.7,53.9 169.7,53.8 170.7,52.5 171.7,52.1 172.7,52.2 173.7,50.6 174.7,51.0 175.7,50.3 176.8,49.6 177.8,51.1 178.2,49.8 178.8,49.2 179.8,49.9 180.8,49.7 181.8,49.7 182.8,49.1 183.8,47.1 184.8,46.8 185.8,47.7 186.8,47.0 187.8,46.6 188.8,46.7 189.8,45.9 190.8,45.9 191.8,44.9 192.8,44.1 193.8,45.6 194.8,44.4 195.8,44.4 196.4,44.4 196.8,43.1 197.8,42.6 198.8,43.5 199.8,42.6 200.8,43.2 201.8,42.9 202.8,43.6 203.8,41.7 204.8,41.4 205.8,41.3 206.8,42.9 207.8,41.0 208.8,42.0 209.8,41.3 210.8,42.0 211.8,41.1 212.8,40.8 213.9,40.9 214.6,40.4 214.9,40.2 215.9,41.6 216.9,40.8 217.9,40.5 218.9,39.9 219.9,41.0 220.9,39.9 221.9,39.9 222.9,40.9 223.9,39.0 224.9,39.6 225.9,38.8 226.9,38.9 227.9,39.1 228.9,39.5 229.9,40.2 230.9,39.9 231.9,39.0 232.7,38.6 232.9,39.0 233.9,39.3 234.9,38.5 235.9,38.5 236.9,38.5 237.9,38.0 238.9,38.1 239.9,38.0 240.9,37.8 241.9,38.0 242.9,37.4 243.9,37.5 244.9,37.3 245.9,37.5 246.9,36.9 247.9,37.3 248.9,36.9 249.9,36.7 251.0,37.0 252.0,36.3 253.0,36.1 254.0,36.6 255.0,36.3 256.0,35.6 257.0,35.5 258.0,35.7 259.0,35.5 260.0,35.2 261.0,35.5 262.0,35.1 263.0,35.4 264.0,34.9 265.0,34.7 266.0,35.3 267.0,35.1 268.0,34.6 269.0,35.0 270.0,34.8 271.0,34.6 272.0,34.6 273.0,34.5 274.0,34.4 275.0,34.8 276.0,34.7 277.0,34.5 278.0,34.6 279.0,34.3 280.0,33.8 281.0,34.4 282.0,33.8 283.0,34.2 284.0,33.7 285.0,34.1 286.0,33.7 287.0,34.0 288.1,34.1 289.1,33.7 290.1,34.0 291.1,34.0 292.1,33.9 293.1,33.7 294.1,33.5 295.1,33.6 296.1,33.9 297.1,33.8 298.1,33.6 299.1,34.1 300.1,34.1 301.1,33.6 302.1,34.1 303.1,33.5 304.1,34.0 305.1,33.9 306.1,33.9 307.1,33.7 308.1,34.1 309.1,33.5 310.1,33.5 311.1,34.0 312.1,33.7 313.1,33.9 314.1,33.9 315.1,33.4 316.1,33.4 317.1,33.5 318.1,33.5 319.1,33.5 320.1,33.4 321.1,33.6 322.1,33.1 323.1,33.5 324.1,33.4 325.2,33.5 326.2,33.5 327.2,33.5 328.2,33.4 329.2,33.4 330.2,33.4 331.2,33.4 332.2,33.4 333.2,33.0 334.2,33.1 335.2,33.0 336.2,33.1 337.2,33.4 338.2,33.1 339.2,33.1 340.2,33.4 341.2,32.8 342.2,32.9 343.2,33.4 344.2,33.3 345.2,33.3 346.2,33.2 347.2,33.6 348.2,33.4 349.2,33.1 350.2,33.0 351.2,33.2 352.2,32.7 353.2,33.1 354.2,33.0 355.2,32.5 356.2,32.4 357.2,32.7 358.2,32.1 359.2,32.0 360.2,32.0 361.2,32.1 362.3,32.2 363.3,31.6 364.3,31.4 365.3,31.7 366.3,31.5 367.3,31.2 368.3,31.3 369.3,31.2 370.3,30.9 371.3,30.8 372.3,31.5 373.3,30.8 374.3,30.8 375.3,31.0 376.3,31.0 377.3,30.8 378.3,30.5 379.3,30.9 380.3,31.1 381.3,30.9 382.3,30.5 383.3,31.0 384.3,30.5 385.3,30.7 386.3,30.5 387.3,30.3 388.3,30.6 389.3,30.6 390.3,30.2 391.3,29.9 392.3,30.0 393.3,29.9 394.3,29.7 395.3,29.7 396.3,29.6 397.3,29.6 398.3,29.9 399.4,29.7 400.4,29.8 401.4,29.5 402.4,29.5 403.4,29.5 404.4,29.4 405.4,29.3 406.4,28.9 407.4,28.7 408.4,28.8 409.4,28.9 410.4,29.0 411.4,28.7 412.4,28.5 413.4,28.4 414.4,28.7 415.4,28.8 416.4,28.3 417.4,28.4 418.4,28.1 419.4,28.1 420.4,28.6 421.4,28.3 422.4,28.3 423.4,28.3 424.4,28.4 425.4,27.9 426.4,28.5 427.4,28.1 428.4,28.4 429.4,28.6 430.4,28.3 431.4,28.3 432.4,28.5 433.4,28.8 434.4,28.8 435.4,28.1 436.5,28.1 437.5,28.1 438.5,28.1 439.2,28.1 439.5,28.2 440.5,28.5 440.7,28.5 441.5,28.4 442.5,28.2 443.1,28.1 443.5,28.1 444.5,28.1 445.5,28.1 446.0,28.1 446.5,28.0 447.0,27.8 447.5,28.0 448.0,28.1 448.5,28.1 449.5,28.1 450.5,28.1 451.5,28.1 452.5,28.1 453.5,28.1 454.5,28.1 455.3,28.1 455.5,28.1 456.5,27.8 456.8,27.8 457.5,28.0 458.2,28.1 458.5,28.1 459.5,27.8 459.7,27.8 460.5,27.7 461.5,27.6 462.5,27.4 463.5,27.2 464.5,27.0 465.5,27.4 466.5,27.2 467.0,27.1 467.5,27.2 468.5,27.3 469.5,27.5 470.5,27.8 471.5,27.5 472.5,27.7 472.8,27.8 473.6,27.6 474.4,27.5 474.6,27.5 475.4,27.6 475.6,27.5 476.6,27.0 477.6,27.0 478.6,27.0 479.6,27.0 480.6,27.0 481.6,27.0 482.2,27.0 482.6,27.3 483.6,28.1 484.6,28.1 485.6,28.1 486.6,28.1 487.6,28.1 488.6,28.1 489.6,28.1 490.6,27.5 491.6,27.5 492.6,27.5 493.6,27.5 494.6,27.5 495.6,27.5 496.5,27.5 496.6,27.5 497.5,27.8 497.6,27.8 498.6,27.8 499.4,27.8 499.6,27.8 500.6,28.1 501.3,28.3 501.6,28.3 502.6,28.5 502.8,28.5 503.6,28.5 504.6,28.5 505.6,28.5 506.6,28.5 507.6,28.5 508.6,28.5 509.6,28.5 510.7,28.5 511.7,28.5 512.7,28.5 513.7,28.5 514.6,28.5 514.7,28.4 515.7,28.0 516.1,27.8 516.7,27.4 517.7,26.9 518.0,26.7 518.7,26.4 519.5,26.1 519.7,26.0 520.7,25.9 521.4,25.8 521.7,25.8 522.7,25.6 523.7,25.5 523.9,25.4 524.7,25.4 525.7,25.4 526.7,25.3 527.3,25.3 527.7,25.2 528.7,25.0 529.2,24.9 529.7,25.0 530.7,25.2 531.7,25.0 532.1,24.9 532.7,24.9 533.7,24.9 534.7,24.9" fill="none" stroke="#E39A05" stroke-width="2.3" stroke-linejoin="round" stroke-linecap="round"/>
</g>
<rect x="68.6" y="8.4" width="476.0" height="371.6" fill="none" stroke="#000" stroke-width="1.5"/>
<g stroke="#000" stroke-width="1.5">
<line x1="61.6" y1="362.4" x2="68.6" y2="362.4"/>
<line x1="61.6" y1="291.6" x2="68.6" y2="291.6"/>
<line x1="61.6" y1="220.8" x2="68.6" y2="220.8"/>
<line x1="61.6" y1="149.9" x2="68.6" y2="149.9"/>
<line x1="61.6" y1="79.1" x2="68.6" y2="79.1"/>
<line x1="61.6" y1="8.3" x2="68.6" y2="8.3"/>
<line x1="83.5" y1="380.0" x2="83.5" y2="387.6"/>
<line x1="133.6" y1="380.0" x2="133.6" y2="387.6"/>
<line x1="183.8" y1="380.0" x2="183.8" y2="387.6"/>
<line x1="233.9" y1="380.0" x2="233.9" y2="387.6"/>
<line x1="284.0" y1="380.0" x2="284.0" y2="387.6"/>
<line x1="334.2" y1="380.0" x2="334.2" y2="387.6"/>
<line x1="384.3" y1="380.0" x2="384.3" y2="387.6"/>
<line x1="434.4" y1="380.0" x2="434.4" y2="387.6"/>
<line x1="484.6" y1="380.0" x2="484.6" y2="387.6"/>
<line x1="534.7" y1="380.0" x2="534.7" y2="387.6"/>
</g>
<text class="tk" style="font-size:16.2px" transform="translate(55.5,367.3) scale(0.95,1)" text-anchor="end">0.0</text>
<text class="tk" style="font-size:16.2px" transform="translate(55.5,296.5) scale(0.95,1)" text-anchor="end">0.2</text>
<text class="tk" style="font-size:16.2px" transform="translate(55.5,225.7) scale(0.95,1)" text-anchor="end">0.4</text>
<text class="tk" style="font-size:16.2px" transform="translate(55.5,154.8) scale(0.95,1)" text-anchor="end">0.6</text>
<text class="tk" style="font-size:16.2px" transform="translate(55.5,84.0) scale(0.95,1)" text-anchor="end">0.8</text>
<text class="tk" style="font-size:16.2px" transform="translate(55.5,13.2) scale(0.95,1)" text-anchor="end">1.0</text>
<text class="tk" style="font-size:16.4px" transform="translate(83.8,405.0)" text-anchor="middle">0</text>
<text class="tk" style="font-size:16.4px" transform="translate(133.9,405.0)" text-anchor="middle">50</text>
<text class="tk" style="font-size:16.4px" transform="translate(184.1,405.0)" text-anchor="middle">100</text>
<text class="tk" style="font-size:16.4px" transform="translate(234.2,405.0)" text-anchor="middle">150</text>
<text class="tk" style="font-size:16.4px" transform="translate(284.3,405.0)" text-anchor="middle">200</text>
<text class="tk" style="font-size:16.4px" transform="translate(334.5,405.0)" text-anchor="middle">250</text>
<text class="tk" style="font-size:16.4px" transform="translate(384.6,405.0)" text-anchor="middle">300</text>
<text class="tk" style="font-size:16.4px" transform="translate(434.7,405.0)" text-anchor="middle">350</text>
<text class="tk" style="font-size:16.4px" transform="translate(484.9,405.0)" text-anchor="middle">400</text>
<text class="tk" style="font-size:16.4px" transform="translate(535.0,405.0)" text-anchor="middle">450</text>
<text class="ti" transform="translate(303.6,428.5) scale(1.1,1)" text-anchor="middle" stroke="#000" stroke-width="0.3">Epoch</text>
<text class="ti" style="font-size:18.7px" transform="translate(19.4,187.7) rotate(-90) scale(1.037,1)" text-anchor="middle" stroke="#000" stroke-width="0.3">metrics/mAP@0.5</text>
<rect x="449.7" y="10.1" width="86.5" height="25.8" fill="none" stroke="#000" stroke-width="1.5"/>
<g stroke="#000" stroke-width="1.8" fill="#000">
<line x1="449.6" y1="36.2" x2="391.9" y2="101.2"/>
<polygon points="384.5,109.6 390.0,98.0 395.3,102.7" stroke="none"/>
<line x1="536.3" y1="36.2" x2="537.2" y2="99"/>
<polygon points="537.2,109.2 534.1,97.4 540.3,97.4" stroke="none"/>
</g>
<g stroke="#e6e6e6" stroke-width="0.8">
<line x1="384.4" y1="208.8" x2="536.6" y2="208.8"/>
<line x1="384.4" y1="188.8" x2="536.6" y2="188.8"/>
<line x1="384.4" y1="168.9" x2="536.6" y2="168.9"/>
<line x1="384.4" y1="148.9" x2="536.6" y2="148.9"/>
<line x1="384.4" y1="128.9" x2="536.6" y2="128.9"/>
</g>
<g clip-path="url(#ic)">
<polyline points="384.4,126.3 385.9,125.2 387.4,124.1 388.6,123.3 388.9,123.6 390.4,125.1 391.9,126.6 393.4,128.0 394.4,129.1 394.8,129.0 396.3,128.5 397.8,128.1 399.3,127.7 400.8,127.3 401.6,127.1 402.3,126.9 403.8,126.6 405.3,126.3 406.8,125.9 408.3,125.6 408.9,125.5 409.8,125.0 411.3,124.1 412.7,124.8 414.2,125.6 415.7,126.3 417.2,126.3 418.7,126.3 420.2,126.3 421.7,126.3 423.2,126.3 424.7,126.3 426.2,126.3 427.7,125.8 429.2,125.4 430.7,124.9 432.1,124.8 433.6,124.8 435.1,124.7 436.6,124.7 438.1,124.6 439.6,124.5 441.1,124.5 442.6,125.5 443.8,126.3 444.1,126.1 445.6,124.9 447.1,123.7 448.1,122.9 448.6,122.9 450.0,123.0 451.5,123.0 453.0,123.1 454.5,123.1 456.0,123.2 457.5,123.2 459.0,123.3 460.5,123.2 462.0,123.2 463.5,123.2 465.0,123.1 466.5,123.1 468.0,123.0 469.4,123.0 470.9,122.9 472.4,122.9 473.9,123.9 475.4,124.9 476.9,124.9 478.4,124.8 479.9,124.8 481.4,124.8 482.9,124.8 484.4,124.8 485.9,124.7 487.3,124.7 488.8,124.7 490.3,124.7 491.8,124.7 493.3,124.6 494.8,124.6 496.3,124.6 497.8,124.6 499.3,124.6 500.8,124.5 502.3,124.5 503.8,124.5 505.3,124.5 506.7,123.8 508.2,123.1 508.7,122.9 509.7,122.9 511.2,122.9 512.7,122.9 514.2,122.9 515.7,122.9 517.2,122.9 518.7,123.6 519.6,124.1 520.2,124.0 521.7,123.8 523.2,123.5 524.6,123.3 526.1,122.6 526.9,122.3 527.6,122.3 529.1,122.3 530.6,122.3 532.1,122.3 533.6,122.3" fill="none" stroke="#FF3333" stroke-width="2.3" stroke-linejoin="round" stroke-linecap="round"/>
<polyline points="384.4,116.1 385.9,117.4 387.4,118.7 388.6,119.7 388.9,119.6 390.4,119.0 391.9,118.5 393.4,117.9 394.4,117.5 394.8,117.4 396.3,117.0 397.8,116.5 399.3,116.1 400.8,115.7 401.6,115.5 402.3,115.4 403.8,115.2 405.3,115.1 406.8,114.9 408.3,114.8 408.9,114.7 409.8,114.9 411.3,115.2 412.7,115.4 414.2,115.7 415.7,116.0 416.2,116.1 417.2,116.1 418.7,116.1 420.2,116.1 421.7,116.1 423.2,116.1 424.7,115.7 426.2,115.2 427.7,114.8 429.2,114.3 430.7,113.9 432.1,113.3 433.6,112.8 434.4,112.5 435.1,114.2 435.7,115.5 436.6,115.0 438.1,114.1 439.6,113.2 440.8,112.5 441.1,112.7 442.6,113.7 444.1,114.7 445.3,115.5 445.6,115.5 447.1,115.5 448.6,115.5 450.0,115.5 451.5,115.5 452.4,115.5 453.0,115.5 454.5,115.7 456.0,115.8 457.5,115.9 459.0,116.0 459.7,116.1 460.5,116.1 462.0,116.1 463.5,116.1 465.0,113.9 466.5,111.7 468.0,112.4 469.4,113.2 470.9,113.9 472.4,112.9 473.0,112.5 473.9,113.4 475.4,114.9 476.0,115.5 476.9,115.5 478.4,115.5 479.9,115.5 481.4,115.5 482.9,115.5 484.4,115.5 485.9,115.5 487.3,115.5 488.4,115.5 488.8,115.1 490.3,114.0 491.2,113.3 491.8,114.2 492.7,115.5 493.3,115.0 494.8,113.9 495.6,113.3 496.3,113.8 497.8,114.7 499.3,113.7 500.8,112.7 501.4,112.3 502.3,112.9 503.8,113.8 505.1,114.7 505.3,114.6 506.7,113.4 507.9,112.5 508.2,112.5 509.7,112.5 511.2,112.5 512.7,112.5 514.2,112.5 515.7,112.5 517.2,112.5 518.7,112.5 520.2,112.5 521.7,112.5 523.2,111.6 523.9,111.1 524.6,111.8 526.1,113.2 526.9,113.9 527.6,113.9 529.1,113.9 530.6,113.9 532.1,113.9 533.6,113.9" fill="none" stroke="#FF8019" stroke-width="2.3" stroke-linejoin="round" stroke-linecap="round"/>
<polyline points="384.4,144.3 385.9,143.7 386.5,143.5 387.4,141.2 387.8,140.1 388.9,139.4 390.4,138.5 391.4,137.9 391.9,137.6 393.4,136.7 394.4,136.1 394.8,136.1 396.3,136.1 397.8,136.2 399.3,136.2 400.8,136.2 402.3,136.3 403.0,136.3 403.8,135.9 405.3,135.1 406.8,134.3 408.3,134.3 409.8,134.3 411.3,134.3 412.0,134.3 412.7,134.9 414.2,136.1 414.7,136.5 415.7,136.4 417.2,136.2 418.7,136.1 420.2,136.0 421.7,135.8 423.2,135.7 424.7,135.7 426.2,135.7 427.7,135.7 429.2,135.7 430.7,135.7 432.1,135.7 433.6,135.7 435.1,135.7 436.6,135.7 438.1,135.7 439.6,135.6 441.1,135.5 442.6,135.4 444.1,135.3 445.6,135.3 447.1,135.2 448.6,135.1 450.0,135.0 451.5,134.9 452.4,134.9 453.0,134.6 454.5,133.9 455.4,133.5 456.0,133.7 457.5,134.3 459.0,134.9 460.5,134.9 462.0,134.9 463.5,134.9 465.0,134.9 466.5,134.9 468.0,134.9 469.4,134.9 470.9,134.9 472.4,134.9 473.9,134.9 475.4,134.9 476.9,134.9 478.4,134.9 479.9,134.9 481.4,134.9 482.9,134.9 484.4,134.9 485.9,135.0 487.3,135.0 488.8,135.0 490.3,135.0 491.8,135.1 493.3,135.1 494.8,135.1 496.3,135.1 497.8,135.2 499.3,135.2 500.8,135.2 502.3,135.2 503.8,135.3 504.4,135.3 505.3,132.1 506.7,132.1 508.2,132.1 509.7,132.1 511.2,132.1 512.7,132.1 514.2,132.1 515.7,132.1 517.2,132.1 518.7,132.1 520.2,132.1 521.7,132.1 523.2,132.1 524.6,132.1 526.1,132.1 527.6,132.1 529.1,132.1 530.6,132.1 532.1,132.1 533.6,132.1" fill="none" stroke="#0F6CE8" stroke-width="2.3" stroke-linejoin="round" stroke-linecap="round"/>
<polyline points="384.4,132.1 385.9,131.3 387.4,130.5 388.6,129.9 388.9,129.9 390.4,130.3 391.9,130.6 393.4,130.9 394.4,131.1 394.8,131.3 396.3,132.2 397.8,133.0 398.7,133.5 399.3,133.3 400.8,133.0 402.3,132.6 403.8,132.3 404.5,132.1 405.3,132.1 406.8,132.1 408.3,132.1 409.8,132.1 411.3,132.1 412.7,132.1 414.2,132.1 415.7,132.1 417.2,132.1 418.7,132.1 420.2,132.1 420.5,132.1 421.7,133.2 423.2,134.6 423.5,134.9 424.7,135.2 426.2,135.6 427.7,136.1 429.2,136.5 430.7,136.2 432.1,135.9 433.6,135.7 435.1,134.9 436.6,134.2 438.1,133.5 439.6,133.6 441.1,133.8 442.6,134.0 444.1,134.1 445.6,134.3 447.1,134.0 448.6,133.7 450.0,133.4 451.5,133.1 452.4,132.9 453.0,132.9 454.5,132.9 456.0,132.9 457.5,132.9 457.8,132.9 459.0,133.9 460.0,134.9 460.5,134.9 462.0,134.9 463.5,134.9 465.0,134.9 466.5,134.9 468.0,134.9 469.4,134.9 470.9,134.9 472.4,134.9 473.9,134.9 475.4,134.9 476.9,134.9 478.4,134.9 479.9,134.9 481.1,134.9 481.4,134.2 482.6,131.7 482.9,131.7 484.4,131.7 485.9,131.7 487.3,131.7 488.8,131.7 489.7,131.7 490.3,132.4 491.8,134.3 493.3,134.3 494.8,134.3 496.3,134.3 497.8,134.3 499.3,134.3 500.8,134.3 502.3,134.3 503.8,134.3 505.3,133.9 506.7,133.6 508.2,133.3 509.7,133.3 511.2,133.3 512.7,133.3 514.2,133.4 515.7,133.4 517.2,133.4 518.7,133.4 520.2,133.5 521.7,133.5 523.2,132.1 524.6,132.4 526.1,132.8 527.6,133.1 529.1,133.5 530.6,134.7 532.1,135.9 533.6,133.9" fill="none" stroke="#12AB63" stroke-width="2.3" stroke-linejoin="round" stroke-linecap="round"/>
<polyline points="384.4,184.2 385.6,211.0 385.9,207.1 387.1,191.4 387.4,190.8 388.6,188.4 388.9,191.4 389.6,198.8 390.4,187.8 391.1,176.8 391.9,176.8 392.9,176.8 393.4,178.6 394.4,182.8 394.8,190.2 395.4,200.0 396.3,184.4 397.2,168.9 397.8,170.4 398.7,172.8 399.3,171.2 400.2,168.9 400.8,170.5 402.3,174.7 403.0,176.8 403.8,176.8 404.8,176.8 405.3,174.4 406.3,168.9 406.8,174.3 408.1,190.8 408.3,189.7 409.6,179.8 409.8,180.0 410.7,181.2 411.3,175.7 412.4,164.7 412.7,165.9 414.2,172.2 414.7,174.0 415.7,178.8 416.9,184.2 417.2,184.0 418.4,182.8 418.7,184.7 420.2,194.1 420.8,197.8 421.7,188.0 423.0,173.2 423.2,173.6 424.7,176.8 425.6,172.6 426.2,176.4 427.7,185.6 429.0,184.8 429.2,187.6 430.4,209.6 430.7,204.6 432.1,179.4 432.9,166.9 433.6,170.4 434.4,174.0 435.1,181.6 436.2,192.2 436.6,185.8 437.7,170.8 438.1,174.4 439.6,186.4 441.1,179.2 442.0,174.8 442.6,178.2 444.1,186.7 444.5,189.2 445.6,187.0 447.1,193.5 447.4,194.8 448.6,193.6 449.3,192.8 450.0,189.3 450.3,187.8 451.4,195.0 451.5,193.6 453.0,178.8 454.2,189.2 454.5,187.1 455.4,180.8 456.0,184.2 456.9,189.2 457.5,185.7 458.3,181.2 459.0,182.9 459.6,184.2 460.5,182.7 461.4,181.2 462.0,177.8 463.5,169.1 463.6,168.3 465.0,194.2 466.5,189.7 466.8,188.8 468.0,182.8 468.7,179.0 469.4,184.3 470.9,194.8 472.4,182.0 473.0,176.8 473.9,178.8 475.4,182.1 476.0,183.4 476.9,178.7 478.4,170.8 479.9,180.8 481.1,188.8 481.4,185.5 482.9,168.9 484.4,181.7 484.7,184.2 485.9,180.7 487.3,176.3 487.6,175.4 488.7,181.2 488.8,179.9 490.0,168.9 490.3,170.7 491.8,179.8 493.3,188.8 494.8,179.0 496.3,187.0 497.8,195.0 499.3,189.3 500.0,186.4 500.8,184.4 501.4,182.8 502.3,184.5 502.9,185.6 503.8,180.5 505.1,172.8 505.3,172.5 506.7,169.4 507.9,166.9 508.2,173.5 509.0,190.0 509.7,176.7 509.9,174.0 510.9,168.3 511.2,172.3 512.7,192.8 513.8,172.6 514.2,173.5 515.7,176.4 516.7,178.4 517.2,176.7 518.1,173.2 518.7,173.5 520.2,174.0 520.3,174.0 521.7,170.9 522.6,168.9 523.2,172.6 524.6,182.0 526.1,172.6 527.6,179.4 528.4,182.8 529.1,179.4 530.6,172.6 532.1,166.9 533.6,189.2" fill="none" stroke="#C57AE8" stroke-width="2.3" stroke-linejoin="round" stroke-linecap="round"/>
<polyline points="384.4,203.0 385.9,200.8 387.4,200.8 388.9,200.8 390.4,200.8 391.4,200.8 391.9,201.3 393.4,202.7 393.7,203.0 394.8,202.3 396.3,201.4 397.2,200.8 397.8,200.8 399.3,200.8 400.8,200.8 401.6,200.8 402.3,199.8 403.0,198.8 403.8,199.8 404.5,200.8 405.3,200.8 406.8,200.8 408.3,200.8 409.8,200.8 411.3,200.8 412.7,200.8 414.2,200.8 415.4,200.8 415.7,200.6 417.2,199.2 417.7,198.8 418.7,199.8 419.8,200.8 420.2,200.4 421.7,199.1 422.0,198.8 423.2,198.5 424.7,198.0 426.2,196.8 427.7,195.6 429.2,194.4 430.7,196.6 432.1,195.6 432.9,195.0 433.6,195.5 435.1,196.3 436.6,197.2 438.1,198.8 439.6,197.2 441.1,198.5 441.5,198.8 442.6,198.1 443.8,197.2 444.1,197.4 445.3,198.0 445.6,197.4 447.1,194.4 448.6,194.4 450.0,194.4 451.5,194.4 453.0,194.4 454.5,194.4 455.4,194.4 456.0,196.3 457.5,200.8 459.0,200.8 460.5,200.8 462.0,200.8 463.5,200.8 465.0,200.8 466.5,200.8 468.0,197.2 469.4,197.2 470.9,197.2 472.4,197.2 473.9,197.2 475.4,197.2 476.8,197.2 476.9,197.4 478.2,198.8 478.4,198.8 479.9,198.8 481.1,198.8 481.4,199.1 482.9,200.6 483.9,201.6 484.4,201.9 485.9,202.7 486.2,202.8 487.3,202.8 488.8,202.8 490.3,202.8 491.8,202.8 493.3,202.8 494.8,202.8 496.3,202.8 497.8,202.8 499.3,202.8 500.8,202.8 502.3,202.8 503.6,202.8 503.8,202.6 505.3,199.9 505.8,198.8 506.7,196.9 508.2,193.8 508.7,192.8 509.7,191.2 510.9,189.2 511.2,189.1 512.7,188.3 513.8,187.8 514.2,187.6 515.7,186.7 517.2,185.8 517.5,185.6 518.7,185.4 520.2,185.2 521.7,185.0 522.6,184.8 523.2,184.4 524.6,183.4 525.4,182.8 526.1,183.3 527.6,184.2 529.1,183.2 529.7,182.8 530.6,182.8 532.1,182.8 533.6,182.8" fill="none" stroke="#E39A05" stroke-width="2.3" stroke-linejoin="round" stroke-linecap="round"/>
</g>
<path d="M384.4 108.9 H536.6 V228.8" fill="none" stroke="#9a9a9a" stroke-width="1.3"/>
<path d="M384.4 108.9 V228.8 H536.6" fill="none" stroke="#4a4a4a" stroke-width="1.3"/>
<g stroke="#4a4a4a" stroke-width="0.9">
<line x1="382.2" y1="228.8" x2="384.4" y2="228.8"/>
<line x1="382.2" y1="208.8" x2="384.4" y2="208.8"/>
<line x1="382.2" y1="188.8" x2="384.4" y2="188.8"/>
<line x1="382.2" y1="168.9" x2="384.4" y2="168.9"/>
<line x1="382.2" y1="148.9" x2="384.4" y2="148.9"/>
<line x1="382.2" y1="128.9" x2="384.4" y2="128.9"/>
<line x1="382.2" y1="108.9" x2="384.4" y2="108.9"/>
<line x1="384.4" y1="228.8" x2="384.4" y2="231.0"/>
<line x1="421.7" y1="228.8" x2="421.7" y2="231.0"/>
<line x1="459.0" y1="228.8" x2="459.0" y2="231.0"/>
<line x1="496.3" y1="228.8" x2="496.3" y2="231.0"/>
<line x1="533.6" y1="228.8" x2="533.6" y2="231.0"/>
</g>
<text class="it" x="379.8" y="230.6" text-anchor="end">0.93</text>
<text class="it" x="379.8" y="210.6" text-anchor="end">0.94</text>
<text class="it" x="379.8" y="190.6" text-anchor="end">0.95</text>
<text class="it" x="379.8" y="170.7" text-anchor="end">0.96</text>
<text class="it" x="379.8" y="150.7" text-anchor="end">0.97</text>
<text class="it" x="379.8" y="130.7" text-anchor="end">0.98</text>
<text class="it" x="379.8" y="110.7" text-anchor="end">0.99</text>
<text class="it" x="383.4" y="237.6" text-anchor="middle">350</text>
<text class="it" x="420.7" y="237.6" text-anchor="middle">375</text>
<text class="it" x="458.0" y="237.6" text-anchor="middle">400</text>
<text class="it" x="495.3" y="237.6" text-anchor="middle">425</text>
<text class="it" x="532.6" y="237.6" text-anchor="middle">450</text>
<text class="il" x="458.7" y="245.4" text-anchor="middle">Epoch</text>
<text class="il" transform="translate(364.6,167.5) rotate(-90)" text-anchor="middle">metrics/mAP@0.5</text>
<line x1="328.6" y1="271.5" x2="358.0" y2="271.5" stroke="#FF8019" stroke-width="2.4" stroke-linecap="round"/>
<text class="lg" transform="translate(361.0,276.1) scale(0.968,1)">Bi-YOLO</text>
<line x1="328.6" y1="286.6" x2="358.0" y2="286.6" stroke="#FF3333" stroke-width="2.4" stroke-linecap="round"/>
<text class="lg" transform="translate(361.0,291.2) scale(0.968,1)">YOLO11s</text>
<line x1="328.6" y1="301.8" x2="358.0" y2="301.8" stroke="#0F6CE8" stroke-width="2.4" stroke-linecap="round"/>
<text class="lg" transform="translate(361.0,306.4) scale(0.968,1)">YOLOv8s</text>
<line x1="328.6" y1="317.1" x2="358.0" y2="317.1" stroke="#12AB63" stroke-width="2.4" stroke-linecap="round"/>
<text class="lg" transform="translate(361.0,321.7) scale(0.968,1)">YOLOv7</text>
<line x1="328.6" y1="332.3" x2="358.0" y2="332.3" stroke="#C57AE8" stroke-width="2.4" stroke-linecap="round"/>
<text class="lg" transform="translate(361.0,336.9) scale(0.968,1)">Deformable-DETR</text>
<line x1="328.6" y1="347.6" x2="358.0" y2="347.6" stroke="#E39A05" stroke-width="2.4" stroke-linecap="round"/>
<text class="lg" transform="translate(361.0,352.2) scale(0.968,1)">RTMdet-l</text>
</svg></body></html>
